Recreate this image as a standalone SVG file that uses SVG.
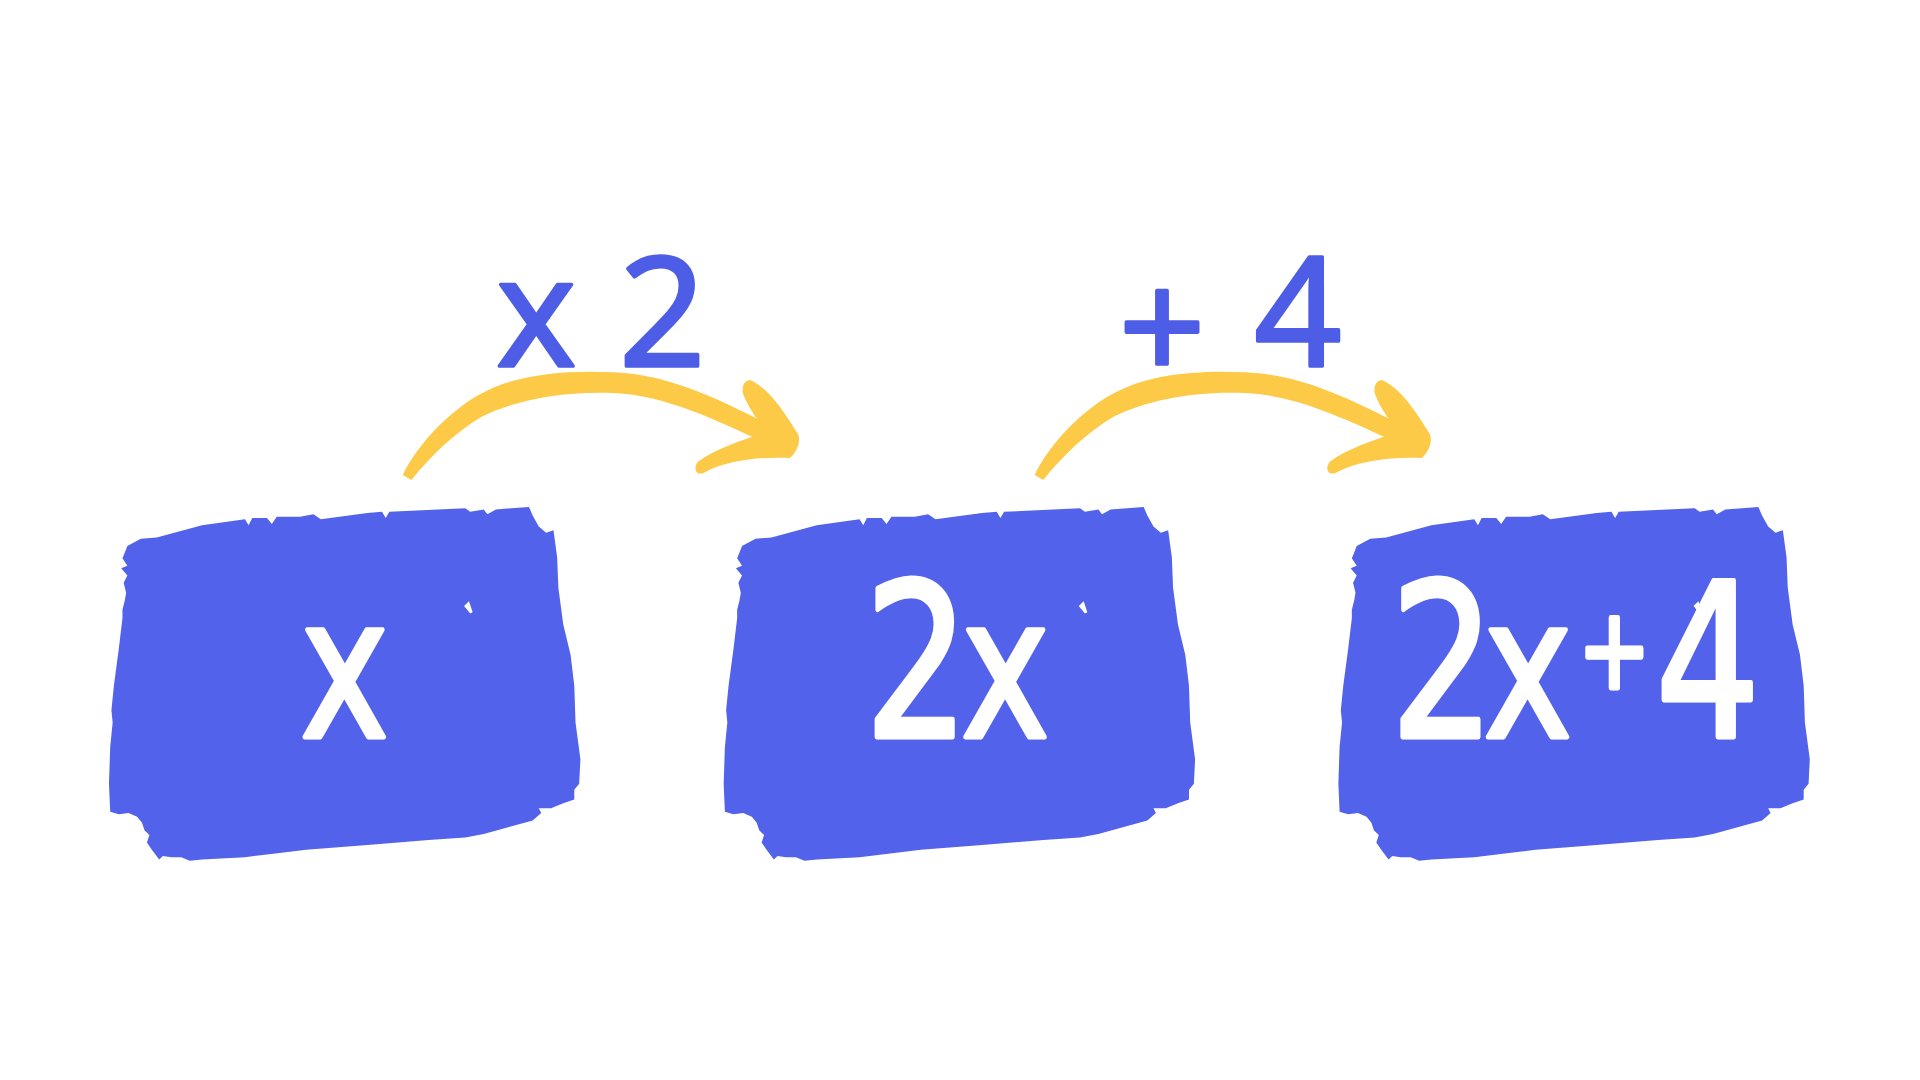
<svg xmlns="http://www.w3.org/2000/svg" xmlns:xlink="http://www.w3.org/1999/xlink" width="1920" height="1080" viewBox="0 0 1920 1080">
<style>
.box{fill:#5262EB}
.speck{fill:#FFFFFF}
.val{fill:#FFFFFF;stroke:#FFFFFF;stroke-width:4;stroke-linejoin:round;font-family:"DejaVu Sans Condensed","DejaVu Sans","Liberation Sans",sans-serif;font-size:160px;text-anchor:middle}
.big{font-size:175px}
.plus{font-size:92px}
.op{fill:#4E5DE6;stroke:#4E5DE6;stroke-width:3;stroke-linejoin:round;stroke-linecap:round;font-family:"Open Sans","Liberation Sans",sans-serif;font-size:124px;text-anchor:middle}
.arrow{fill:#FCCA46}
</style>
<defs>
<g id="boxshape">
<path class="box" d="M102,451 L104,446 L115,440 L128,439 L165,429 L200,424 L203,429 L206,423 L218,423 L222,428 L226,422 L245,422 L256,420 L262,424 L300,419 L312,418 L315,423 L318,418 L380,415 L384,418 L395,416 L398,420 L405,416 L432,414 L435,421 L440,430 L446,435 L452,433 L455,455 L456,480 L460,510 L466,535 L469,560 L470,590 L474,620 L473,640 L469,645 L469,653 L460,656 L450,660 L440,660 L442,664 L435,670 L395,681 L380,684 L350,686 L300,690 L250,694 L225,697 L200,700 L165,702 L155,703 L148,700 L140,700 L133,699 L130,702 L124,694 L120,688 L122,682 L118,678 L116,672 L112,667 L105,664 L97,665 L90,663 L89,640 L90,610 L92,590 L91,580 L93,560 L97,530 L100,505 L100,498 L102,490 L103,484 L101,476 L104,470 L99,464 L104,462 L100,456 Z"/>
<path class="speck" d="M379,495 L383,491 L386,500 L384,501 Z"/>
</g>
<g id="arrowshape">
<path class="arrow" d="M329,388 C338,368 363,338 392,322 C420,306 460,302 501,304 C540,306 575,318 645,356 L641,369 C600,351 550,323 501,321 C460,319 420,327 394,340 C372,353 352,372 336,392 Z"/>
<path class="arrow" d="M607,322 C605,315 609,309 614,311 C626,317 636,330 645,344 L652,355 C654,362 650,370 645,374 C625,373 595,375 575,386 C568,389 566,382 570,377 C585,366 605,360 625,353 C619,343 611,333 607,322 Z"/>
</g>
</defs>
<rect width="1920" height="1080" fill="#FFFFFF"/>
<g transform="scale(1.22449)">
<g id="connectors">
<g id="edge-times2">
<use xlink:href="#arrowshape"/>
<text class="op"><tspan x="438" y="299">x</tspan><tspan x="541" y="299">2</tspan></text>
</g>
<g id="edge-plus4">
<use xlink:href="#arrowshape" transform="translate(516,0)"/>
<text class="op"><tspan x="949" y="311">+</tspan><tspan x="1060" y="299">4</tspan></text>
</g>
</g>
<g id="node-x">
<use xlink:href="#boxshape"/>
<text class="val" transform="translate(0,602) scale(0.85,1)"><tspan x="331">x</tspan></text>
</g>
<g id="node-2x">
<use xlink:href="#boxshape" transform="translate(502,0)"/>
<text class="val" transform="translate(0,602) scale(0.85,1)"><tspan class="big" x="881">2</tspan><tspan x="966">x</tspan></text>
</g>
<g id="node-2x4">
<use xlink:href="#boxshape" transform="translate(1004,0)"/>
<text class="val" transform="translate(0,602) scale(0.85,1)"><tspan class="big" x="1386">2</tspan><tspan x="1468">x</tspan><tspan class="plus" x="1551" y="-40">+</tspan><tspan class="big" x="1641" y="0">4</tspan></text>
</g>
</g>
</svg>
